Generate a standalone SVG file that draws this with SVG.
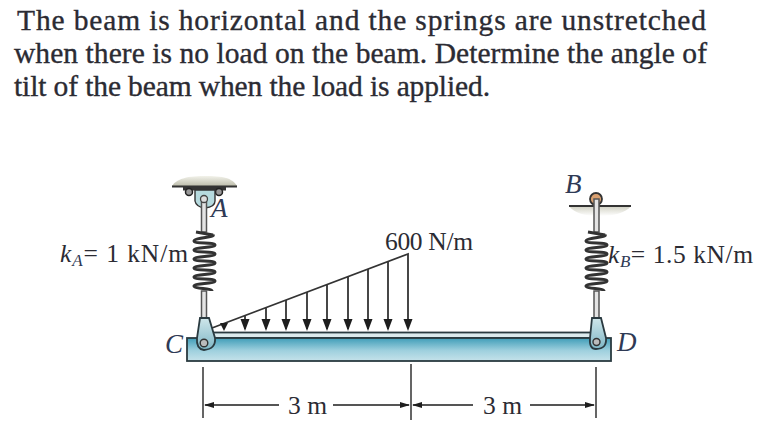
<svg xmlns="http://www.w3.org/2000/svg" width="783" height="441" viewBox="0 0 783 441">
<style>
text{font-family:"Liberation Serif","Times New Roman",serif;fill:#2b2b33}
.p{font-size:29.500px;stroke:#2b2b33;stroke-width:0.350}
.l{font-size:25.500px}
.i{font-style:italic;font-size:27px;fill:#2f3a55}
.s{font-size:17px;font-style:italic;fill:#2f3a55}
.line{stroke:#333;stroke-width:1.800;fill:none}
.dim{stroke:#555;stroke-width:1.800;fill:none}
.arrow{fill:#1e1e1e}
.ol{stroke:#2a3a40;stroke-width:1.800}
.spring{fill:none;stroke:#333;stroke-width:3}
.rod{fill:#e4e4e4;stroke:#555;stroke-width:1.500}
</style>
<defs>
<linearGradient id="bm" x1="0" y1="0" x2="0" y2="1"><stop offset="0" stop-color="#3f9db8"/><stop offset="0.55" stop-color="#9fd0de"/><stop offset="1" stop-color="#c5e2ea"/></linearGradient>
<linearGradient id="cl" x1="0" y1="0" x2="0" y2="1"><stop offset="0" stop-color="#cfe6ea"/><stop offset="1" stop-color="#7fb7c6"/></linearGradient>
<linearGradient id="sh" x1="0" y1="0" x2="0" y2="1"><stop offset="0" stop-color="#f2f2ea"/><stop offset="1" stop-color="#bdbdab"/></linearGradient>
<linearGradient id="sh2" x1="0" y1="0" x2="0" y2="1"><stop offset="0" stop-color="#d0d0c2"/><stop offset="1" stop-color="#fff"/></linearGradient>
<path id="ah" d="M-4.500 -12 L4.500 -12 L0 0 Z"/>
<path id="spr" d="M-8 0 L9 3 M9 3 C12 5 -10 6 -10 9 C-10 12 11 10 11 13 C11 16 -10 15 -10 18 C-10 21 11 19 11 22 C11 25 -10 24 -10 27 C-10 30 11 28 11 31 C11 34 -10 33 -10 36 C-10 39 11 37 11 40 C11 43 -10 42 -10 45 C-10 48 11 46 11 49 C11 52 -10 51 -10 54 C-10 57 8 56 8 59"/>
</defs>

<g id="problem-text">
<text class="p" x="17" y="30" textLength="689" lengthAdjust="spacing">The beam is horizontal and the springs are unstretched</text>
<text class="p" x="14" y="63" textLength="693" lengthAdjust="spacing">when there is no load on the beam. Determine the angle of</text>
<text class="p" x="14" y="96" textLength="476" lengthAdjust="spacing">tilt of the beam when the load is applied.</text>
</g>

<g id="beam">
<rect x="205" y="332.500" width="386" height="5.500" fill="#dcebee" class="ol"/>
<rect x="187" y="338" width="424" height="23" fill="url(#bm)" class="ol"/>
</g>

<g id="connectors">
<path class="line" d="M212 328 L408 254 V320"/>
<path class="line" d="M224 323 V329 M245 316 V329 M266 308 V329 M286 300 V329 M307 292 V329 M327 284 V329 M348 277 V329 M368 269 V329 M388 262 V329"/>
<g class="arrow">
<path d="M220 323 H228 L224 331 Z"/>
<use href="#ah" x="245" y="331"/><use href="#ah" x="266" y="331"/><use href="#ah" x="286" y="331"/><use href="#ah" x="307" y="331"/><use href="#ah" x="327" y="331"/><use href="#ah" x="348" y="331"/><use href="#ah" x="368" y="331"/><use href="#ah" x="388" y="331"/><use href="#ah" x="408" y="331"/>
</g>
<path class="dim" d="M203 367 V418 M411 364 V420 M596 367 V418 M205 405 H279 M333 405 H409 M413 405 H473 M530 405 H594"/>
<g class="arrow">
<path d="M204 405 L214 402 V408 Z"/><path d="M410 405 L400 402 V408 Z"/><path d="M412 405 L422 402 V408 Z"/><path d="M595 405 L585 402 V408 Z"/>
</g>
</g>

<g id="support-A">
<path d="M172 186 C176 180 184 176 204 176 C224 176 232 178 237 186 Z" fill="url(#sh)"/>
<path d="M172 186.500 H237" stroke="#333" stroke-width="1.800"/>
<rect x="183" y="187" width="43" height="3.500" fill="#333"/>
<circle cx="189" cy="192" r="3.500" fill="#999" stroke="#222" stroke-width="1.500"/>
<circle cx="219" cy="192" r="3.500" fill="#999" stroke="#222" stroke-width="1.500"/>
<path d="M195 190 H215 V201 Q215 207 205 208 Q196 207 195 201 Z" fill="#b6dade" stroke="#333" stroke-width="1.400"/>
<rect x="201.500" y="199" width="5" height="33" class="rod"/>
<circle cx="204" cy="199" r="3.500" fill="#ddd" stroke="#444" stroke-width="1.300"/>
</g>

<g id="spring-A">
<use href="#spr" x="204" y="232" class="spring"/>
<rect x="201.500" y="291" width="5" height="27" class="rod"/>
</g>

<g id="clevis-C">
<path d="M200 318 H209 L215 338 Q216 349 204 350 Q196 349 197 338 Z" fill="url(#cl)" class="ol"/>
<circle cx="204" cy="343" r="3.800" fill="#bbb" stroke="#333" stroke-width="1.400"/>
</g>

<g id="support-B">
<path d="M569 206 H631 C626 213 612 216 600 216 C585 216 574 213 569 206 Z" fill="url(#sh2)"/>
<circle cx="596" cy="199" r="6" fill="#d9a070" stroke="#333" stroke-width="1.800"/>
<path d="M569 206 H631" stroke="#333" stroke-width="1.800"/>
<rect x="594" y="199" width="5" height="33" class="rod"/>
</g>

<g id="spring-B">
<use href="#spr" x="596" y="232" class="spring"/>
<rect x="594" y="291" width="5" height="27" class="rod"/>
</g>

<g id="clevis-D">
<path d="M592 318 H601 L606 338 Q607 349 596 349 Q589 349 590 338 Z" fill="url(#cl)" class="ol"/>
<circle cx="596.500" cy="342" r="3.500" fill="#bbb" stroke="#333" stroke-width="1.400"/>
</g>

<g id="labels">
<text class="i" x="211" y="217">A</text>
<text class="i" x="565" y="193">B</text>
<text class="i" x="165" y="353">C</text>
<text class="i" x="617" y="351">D</text>
<text class="l" x="60" y="262" textLength="128"><tspan font-style="italic">k</tspan><tspan class="s" dy="4">A</tspan><tspan dy="-4">= 1 kN/m</tspan></text>
<text class="l" x="608" y="263" textLength="145"><tspan font-style="italic">k</tspan><tspan class="s" dy="4">B</tspan><tspan dy="-4">= 1.5 kN/m</tspan></text>
<text class="l" x="385" y="250" textLength="88">600 N/m</text>
<text class="l" x="288" y="414">3 m</text>
<text class="l" x="483" y="414">3 m</text>
</g>
</svg>
